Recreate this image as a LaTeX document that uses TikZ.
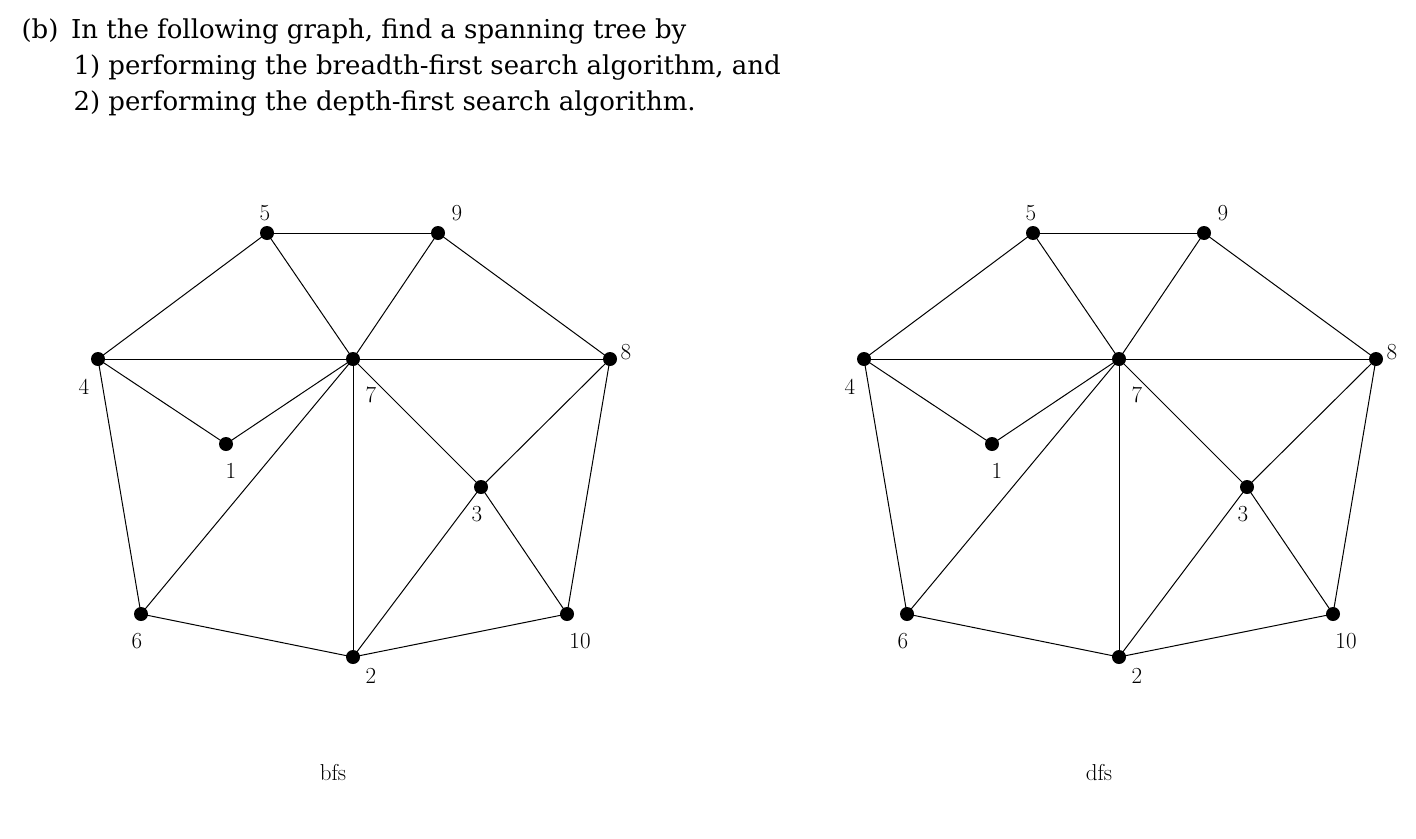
\documentclass[tikz,border=0pt]{standalone}
\usepackage{fontspec}
\newfontfamily\headfont{DejaVu Serif}
\begin{document}
\begin{tikzpicture}[x=1pt,y=-1pt,
  dot/.style={circle,fill=black,inner sep=0pt,minimum size=14pt},
  lbl/.style={font=\fontsize{23}{23}\selectfont},
  hd/.style={anchor=west,font=\headfont\fontsize{26}{26}\selectfont},
  edge/.style={line width=1pt}]
\useasboundingbox (0,0) rectangle (1416,838);
\node[hd] (t1) at (18,32) {(b)\, In the following graph, find a spanning tree by};
\node[hd] (t2) at (70,68) {1) performing the breadth-first search algorithm, and};
\node[hd] (t3) at (70,104) {2) performing the depth-first search algorithm.};
\foreach \p/\dx/\cap in {a/0/bfs, b/766/dfs}{
  \begin{scope}[xshift=\dx]
  \node[dot] (\p5) at (267,233) {};
  \node[dot] (\p9) at (438,233) {};
  \node[dot] (\p4) at (98,359) {};
  \node[dot] (\p7) at (353,359) {};
  \node[dot] (\p8) at (610,359) {};
  \node[dot] (\p1) at (226,444) {};
  \node[dot] (\p3) at (481,487) {};
  \node[dot] (\p6) at (141,614) {};
  \node[dot] (\p10) at (567,614) {};
  \node[dot] (\p2) at (353,657) {};
  \node[lbl] (\p l5) at (265,213) {5};
  \node[lbl] (\p l9) at (457,213) {9};
  \node[lbl] (\p l4) at (84,387) {4};
  \node[lbl] (\p l7) at (371,395) {7};
  \node[lbl] (\p l8) at (626,352) {8};
  \node[lbl] (\p l1) at (231,471) {1};
  \node[lbl] (\p l3) at (477,514) {3};
  \node[lbl] (\p l6) at (137,641) {6};
  \node[lbl] (\p l10) at (580,641) {10};
  \node[lbl] (\p l2) at (371,676) {2};
  \node[lbl] (\p cap) at (333,773) {\cap};
  \foreach \u/\v in {5/9,5/4,5/7,9/7,9/8,4/7,7/8,4/1,1/7,4/6,7/6,7/2,7/3,3/8,3/2,3/10,8/10,6/2,2/10}
    \draw[edge] (\p\u.center) -- (\p\v.center);
  \end{scope}
}
\end{tikzpicture}
\end{document}
